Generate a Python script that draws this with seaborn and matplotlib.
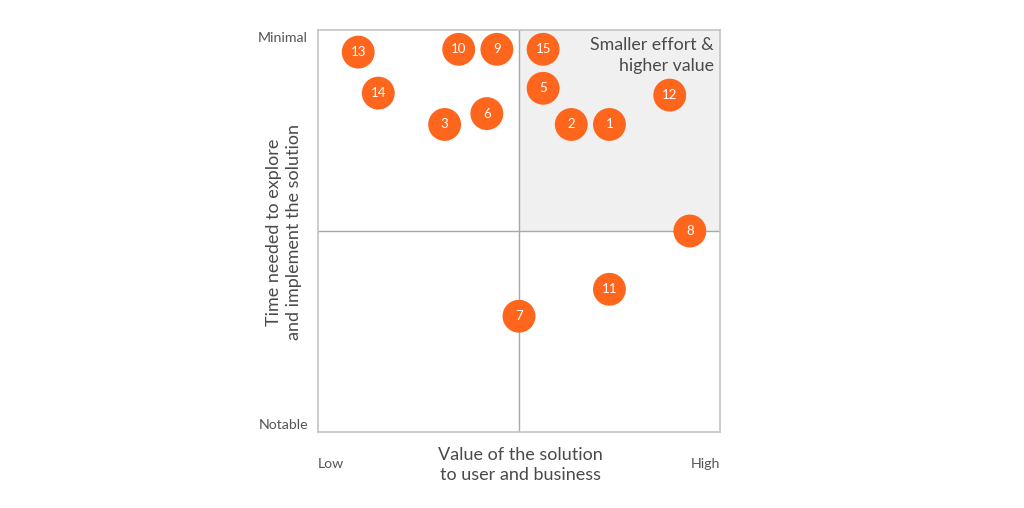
import matplotlib
matplotlib.use("Agg")
import matplotlib.pyplot as plt
import seaborn as sns
import pandas as pd

ids = [13, 10, 9, 15, 5, 14, 12, 6, 3, 2, 1, 8, 11, 7]
value = [1.0, 3.5, 4.45, 5.6, 5.6, 1.5, 8.75, 4.2, 3.15, 6.3, 7.25, 9.25, 7.25, 5.0]
time_ease = [9.45, 9.52, 9.52, 9.52, 8.55, 8.43, 8.38, 7.92, 7.65, 7.65, 7.65, 5.0, 3.55, 2.88]

df = pd.DataFrame({"id": ids, "value": value, "ease": time_ease})

sns.set_theme(style="white")
plt.rcParams["font.family"] = ["Lato", "DejaVu Sans"]

fig = plt.figure(figsize=(10.24, 5.08), dpi=100)
ax = fig.add_axes([318/1024, 1-432/508, 402/1024, 402/508])

ax.set_xlim(0, 10)
ax.set_ylim(0, 10)
ax.axvspan(5, 10, ymin=0.5, ymax=1, color="#f0f0f0", zorder=0, lw=0)
ax.axvline(5, color="#a8a8a8", lw=1, zorder=1)
ax.axhline(5, color="#a8a8a8", lw=1, zorder=1)

sns.scatterplot(data=df, x="value", y="ease", ax=ax, s=560, color="#fe651d",
                edgecolor="none", linewidth=0, zorder=3, legend=False, clip_on=False)
for i, v, e in zip(ids, value, time_ease):
    ax.text(v, e, str(i), color="white", fontsize=9.5, ha="center", va="center", zorder=4)

for sp in ax.spines.values():
    sp.set_color("#c4c4c4")
    sp.set_linewidth(1.2)
ax.set_xticks([])
ax.set_yticks([])
ax.set_xlabel("")
ax.set_ylabel("")

dark = "#4a4a4a"
fig.text(714/1024, 1-55.5/508, "Smaller effort &\nhigher value", ha="right", va="center",
         fontsize=12.8, color=dark, linespacing=1.42)

fig.text(308/1024, 1-38/508, "Minimal", ha="right", va="center", fontsize=10.2, color="#555555")
fig.text(308/1024, 1-425/508, "Notable", ha="right", va="center", fontsize=10.2, color="#555555")
fig.text(318/1024, 1-464/508, "Low", ha="left", va="center", fontsize=10.2, color="#555555")
fig.text(720/1024, 1-464/508, "High", ha="right", va="center", fontsize=10.2, color="#555555")
fig.text(520/1024, 1-465/508, "Value of the solution\nto user and business", ha="center", va="center",
         fontsize=13, color=dark, linespacing=1.3)
fig.text(284/1024, 1-232/508, "Time needed to explore\nand implement the solution", ha="center", va="center",
         rotation=90, fontsize=13, color=dark, linespacing=1.3)

fig.savefig("out.png", dpi=100)
